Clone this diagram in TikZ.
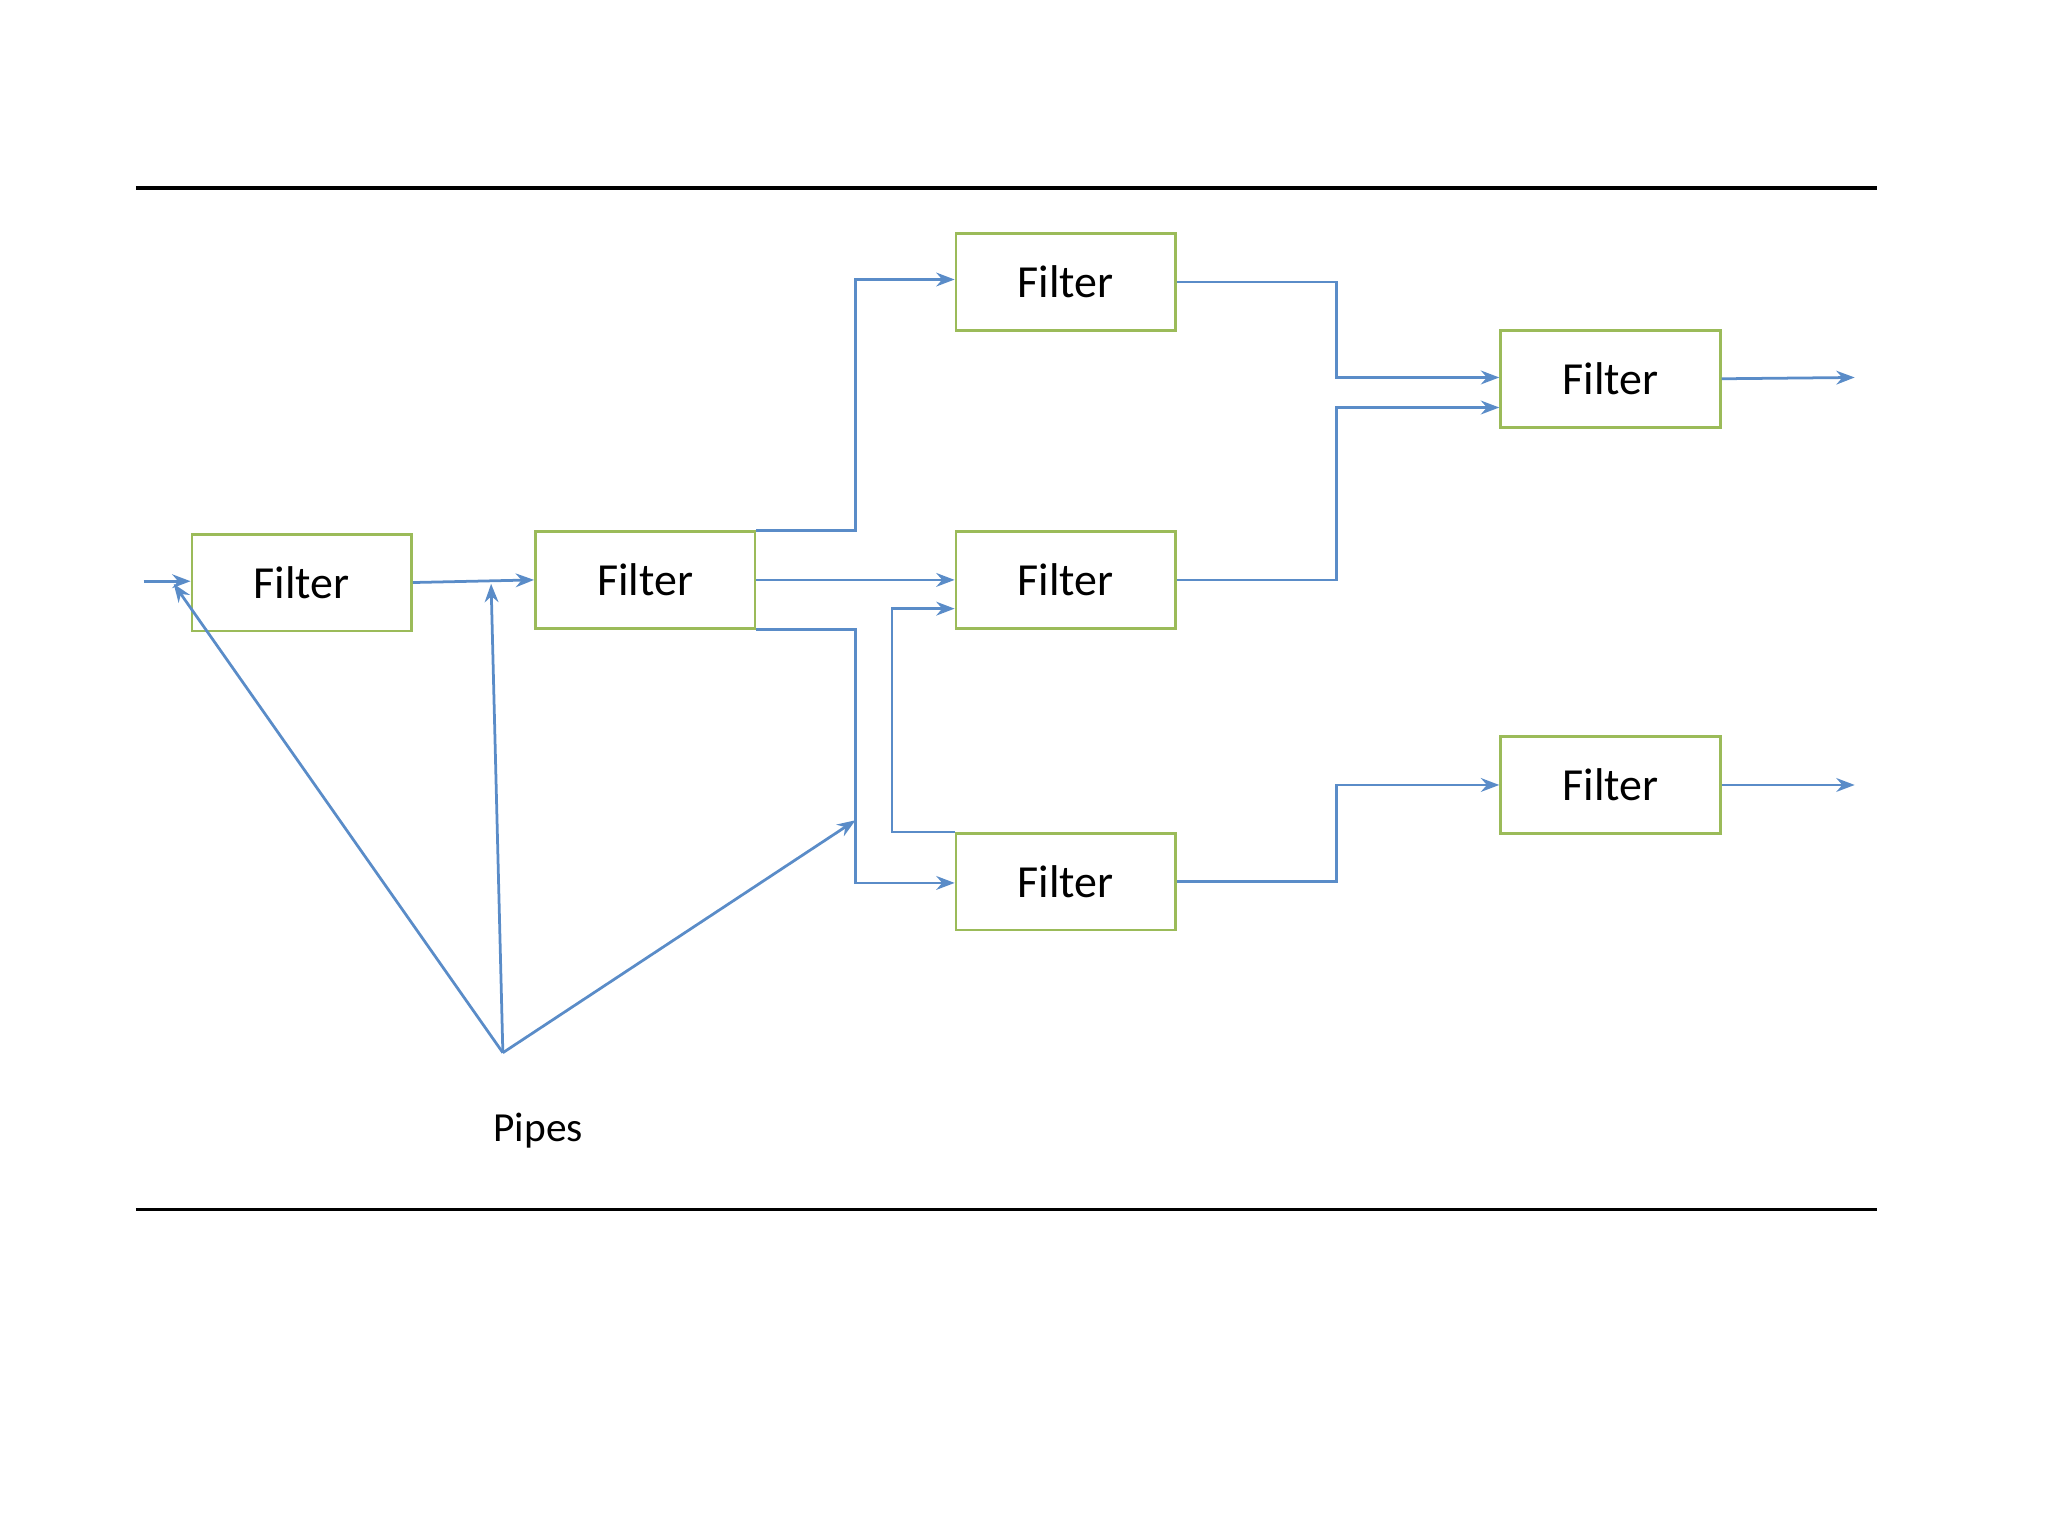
\documentclass[tikz,border=0pt]{standalone}
\usepackage{fontspec}
\setmainfont{Carlito}
\usetikzlibrary{arrows.meta}
\definecolor{bx}{RGB}{155,187,89}
\definecolor{ln}{RGB}{90,140,200}
\begin{document}
\begin{tikzpicture}[x=0.01cm,y=-0.01cm,
  filt/.style={draw=bx,line width=0.6pt,minimum width=1.68cm,minimum height=0.74cm,inner sep=0pt,font=\fontsize{10}{12}\selectfont},
  pipe/.style={draw=ln,line width=0.6pt,-{Stealth[length=4pt,width=3pt]}}]
\useasboundingbox (0,0) rectangle (1568,1176);
\draw[line width=0.8pt] (104,144) -- (1437,144);
\draw[line width=0.8pt] (104,926) -- (1437,926);
\node[filt] (f1) at (231,446) {Filter};
\node[filt] (f2) at (494,444) {Filter};
\node[filt] (f3) at (816,216) {Filter};
\node[filt] (f4) at (816,444) {Filter};
\node[filt] (f5) at (816,675) {Filter};
\node[filt] (f6) at (1233,290) {Filter};
\node[filt] (f7) at (1233,601) {Filter};
\node[font=\fontsize{9}{11}\selectfont] (pt) at (412,866) {Pipes};
\coordinate (in) at (110,445);
\coordinate (o6) at (1420,289);
\coordinate (o7) at (1420,601);
\coordinate (p) at (385,806);
\draw[pipe] (in) -- (in -| f1.west);
\draw[pipe] (f1.east) -- (f2.west);
\draw[pipe] (f2.north east) -| (655,214) -- (f3.west |- 655,214);
\draw[pipe] (f2.east) -- (f4.west);
\draw[pipe] (f2.south east) -| (655,676) -- (f5.west |- 655,676);
\draw[pipe] (f5.north west) -- (f5.north west -| 683,0) -- (683,466) -- (f4.west |- 683,466);
\draw[pipe] (f3.east) -| (1023,289) -- (f6.west |- 1023,289);
\draw[pipe] (f4.east) -| (1023,312) -- (f6.west |- 1023,312);
\draw[pipe] (f6.east) -- (o6);
\draw[pipe] (f5.east) -| (1023,601) -- (f7.west);
\draw[pipe] (f7.east) -- (o7);
\draw[pipe] (p) -- (133,447);
\draw[pipe] (p) -- (376,447);
\draw[pipe] (p) -- (655,628);
\end{tikzpicture}
\end{document}
